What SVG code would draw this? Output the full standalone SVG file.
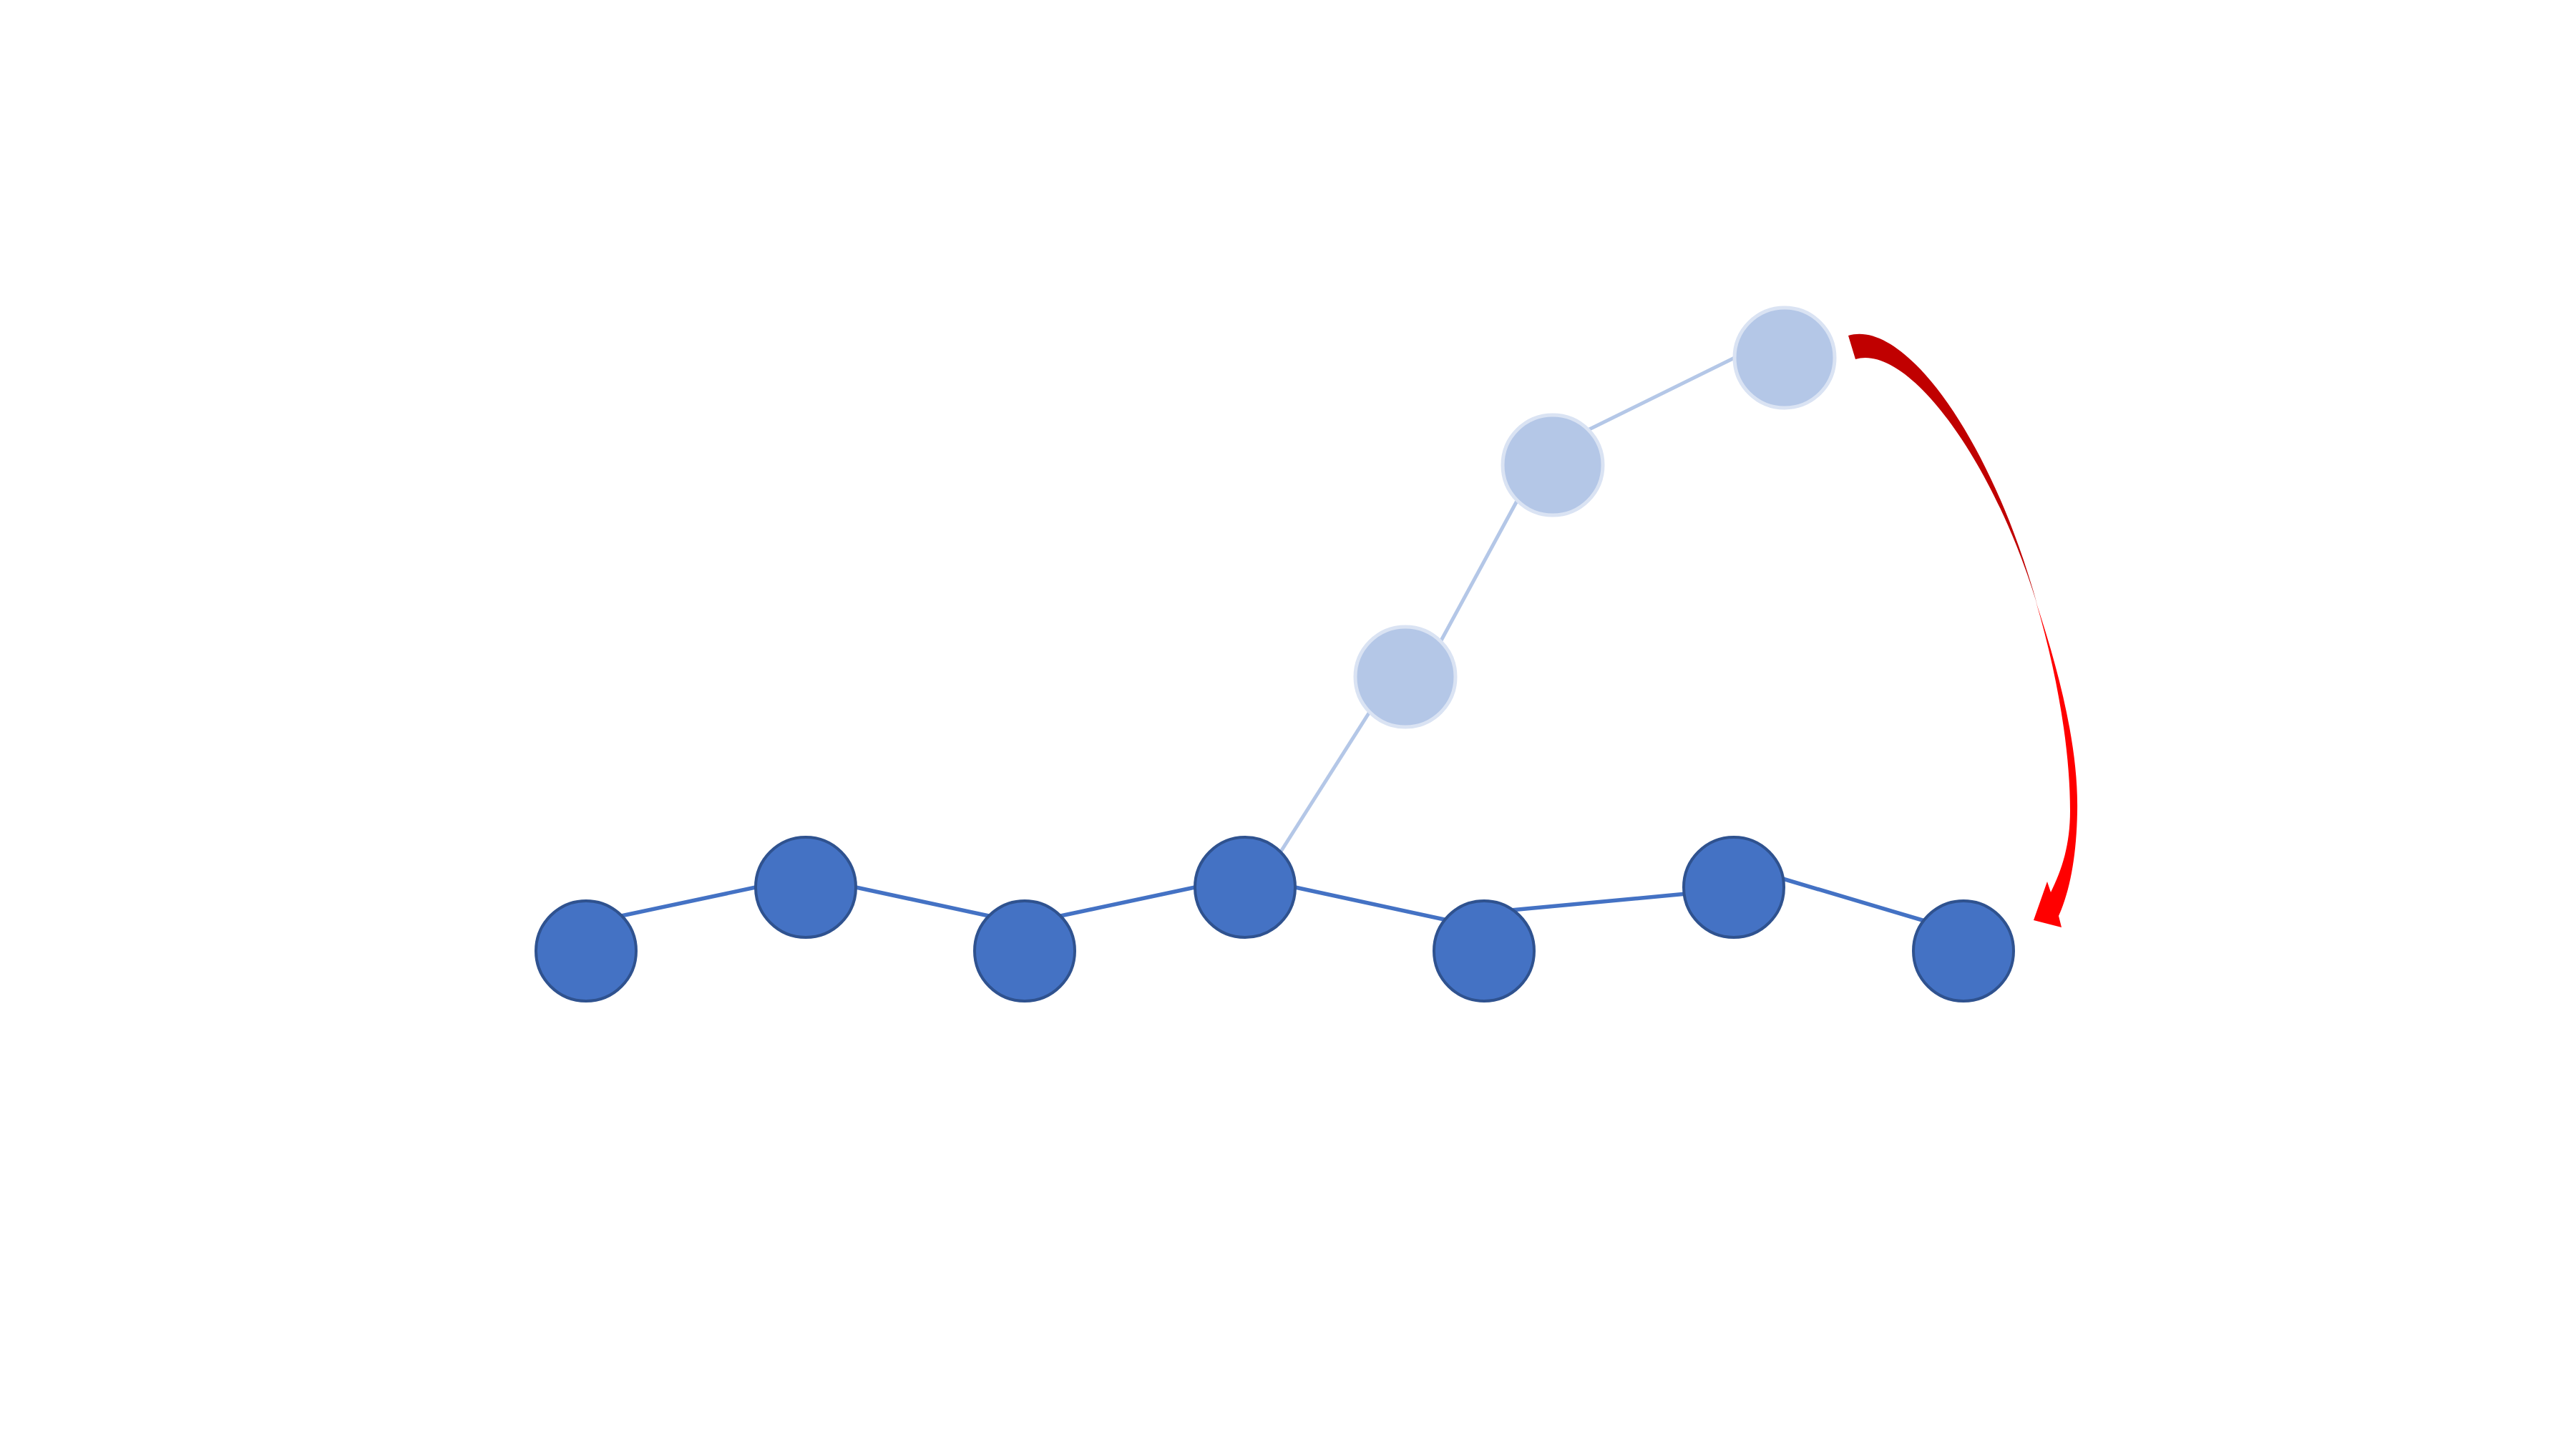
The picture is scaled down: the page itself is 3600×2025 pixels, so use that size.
<svg xmlns="http://www.w3.org/2000/svg" width="3600" height="2025" viewBox="0 0 3600 2025">
<style>
.e{stroke:#4472C4;stroke-width:5.5;fill:none}
.el{stroke:#B4C7E7;stroke-width:5;fill:none}
.n{fill:#4472C4;stroke:#2F528F;stroke-width:4}
.nl{fill:#B4C7E7;stroke:#DAE3F3;stroke-width:5}
</style>
<rect width="3600" height="2025" fill="#FFFFFF"/>
<g id="connectors">
<line class="e" x1="868" y1="1280" x2="1056" y2="1240"/>
<line class="e" x1="1196" y1="1240" x2="1382" y2="1280"/>
<line class="e" x1="1482" y1="1280" x2="1670" y2="1240"/>
<line class="e" x1="1810" y1="1240" x2="2023" y2="1286"/>
<line class="e" x1="2111" y1="1272" x2="2357" y2="1249"/>
<line class="e" x1="2488" y1="1227" x2="2690" y2="1287"/>
<line class="el" x1="1790" y1="1190" x2="1914" y2="995"/>
<line class="el" x1="2013" y1="897" x2="2120" y2="700"/>
<line class="el" x1="2219" y1="601" x2="2424" y2="500"/>
</g>
<g id="n1"><circle class="n" cx="819" cy="1329" r="70"/></g>
<g id="n2"><circle class="n" cx="1126" cy="1240" r="70"/></g>
<g id="n3"><circle class="n" cx="1432" cy="1329" r="70"/></g>
<g id="n4"><circle class="n" cx="1740" cy="1240" r="70"/></g>
<g id="n5"><circle class="n" cx="2074" cy="1329" r="70"/></g>
<g id="n6"><circle class="n" cx="2423" cy="1240" r="70"/></g>
<g id="n7"><circle class="n" cx="2744" cy="1329" r="70"/></g>
<g id="ghostA"><circle class="nl" cx="1964" cy="946" r="70"/></g>
<g id="ghostB"><circle class="nl" cx="2170" cy="650" r="70"/></g>
<g id="ghostC"><circle class="nl" cx="2494" cy="500" r="70"/></g>
<g id="arrow">
<path fill="#C00000" d="M2583,469 C2660,445 2782,610 2847,845 C2785,640 2665,480 2593,502 Z"/>
<path fill="#FF0000" d="M2845,840 C2878,940 2905,1045 2903,1135 C2902,1195 2893,1245 2877,1280 L2881,1296 L2842,1286 L2861,1232 L2866,1247 C2882,1215 2893,1180 2893,1133 C2893,1050 2876,945 2845,840 Z"/>
</g>
</svg>
